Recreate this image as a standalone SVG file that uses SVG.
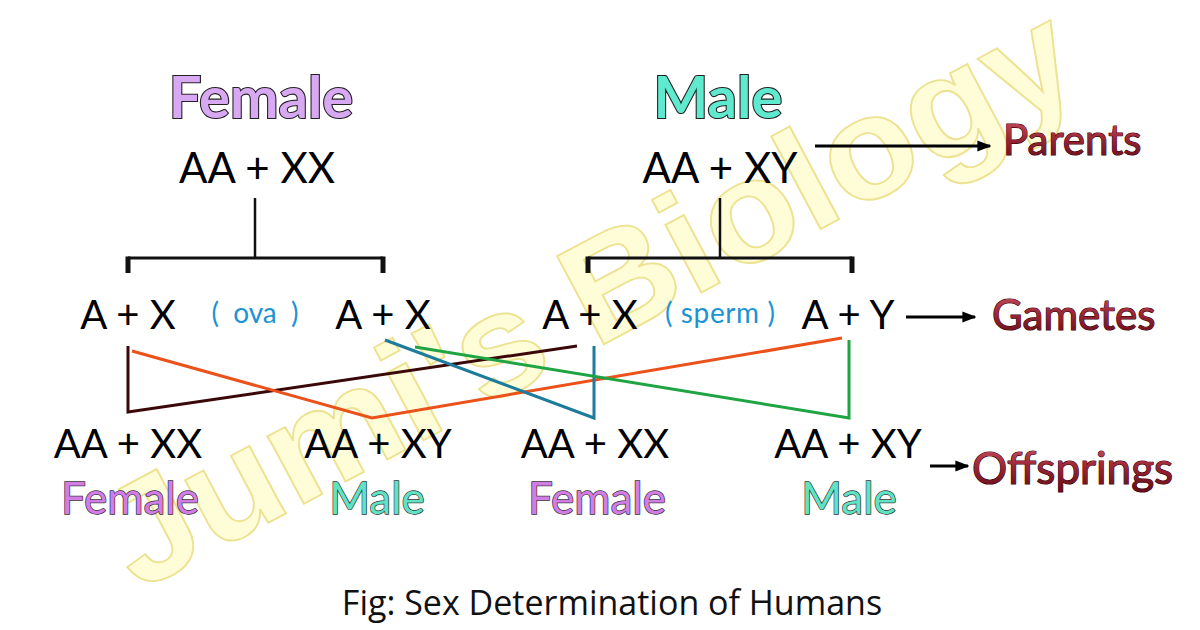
<svg xmlns="http://www.w3.org/2000/svg" width="1200" height="630" viewBox="0 0 1200 630">
<defs>
<linearGradient id="redg" x1="0" y1="0" x2="0" y2="1">
<stop offset="0" stop-color="#d05868"/>
<stop offset="0.5" stop-color="#9a2535"/>
<stop offset="1" stop-color="#5e0a16"/>
</linearGradient>
<marker id="arr" viewBox="0 0 10 10" refX="9" refY="5" markerWidth="5" markerHeight="5" orient="auto" markerUnits="strokeWidth">
<path d="M0,1 L10,5 L0,9 Z" fill="#000"/>
</marker>
<style>
.geno{font-family:"Lato","Liberation Sans",sans-serif;font-size:40px;fill:#000;text-anchor:middle}
.pg{font-size:42px}
.paren{font-family:"Lato","Liberation Sans",sans-serif;font-size:28px;fill:#1d93d3;text-anchor:middle;white-space:pre}
.title{font-family:"Lato","Liberation Sans",sans-serif;font-weight:bold;font-size:58px;stroke:#222;stroke-width:2.2;paint-order:stroke;text-anchor:middle}
.lbl{font-family:"Lato","Liberation Sans",sans-serif;font-size:44px;stroke:#333;stroke-width:1.4;paint-order:stroke;text-anchor:middle}
.side{font-family:"Lato","Liberation Sans",sans-serif;font-size:42px;fill:url(#redg);stroke:#3a0008;stroke-width:1.2;paint-order:stroke}
.fem{fill:#d9a8f2}
.mal{fill:#5fe9cf}
.fem2{fill:#d27ce6}
.mal2{fill:#5fe3c4}
.br{stroke:#111;fill:none}
.cap{font-family:"Open Sans","Noto Sans",sans-serif;font-size:34px;fill:#111;text-anchor:middle}
.wm{font-family:"Liberation Sans",sans-serif;font-weight:bold;font-size:145px;fill:#fffcd8;stroke:#ece290;stroke-width:1.8}
</style>
</defs>
<rect width="1200" height="630" fill="#fff"/>
<text class="wm" transform="translate(138,592) rotate(-28)" textLength="1075" lengthAdjust="spacingAndGlyphs">Jumi's Biology</text>

<g id="parent-female">
<text class="title fem" x="261" y="118">Female</text>
<text class="geno pg" x="257" y="183">AA + XX</text>
</g>
<g id="parent-male">
<text class="title mal" x="718" y="118">Male</text>
<text class="geno pg" x="720" y="183">AA + XY</text>
</g>
<g id="label-parents">
<text class="side" x="1003" y="155">Parents</text>
</g>

<g id="gamete-ova-1"><text class="geno" x="128" y="329">A + X</text></g>
<g id="label-ova"><text class="paren" x="255" y="323">(  ova  )</text></g>
<g id="gamete-ova-2"><text class="geno" x="383" y="329">A + X</text></g>
<g id="gamete-sperm-x"><text class="geno" x="590" y="329">A + X</text></g>
<g id="label-sperm"><text class="paren" x="720" y="323" textLength="110" lengthAdjust="spacing">( sperm )</text></g>
<g id="gamete-sperm-y"><text class="geno" x="848" y="329">A + Y</text></g>
<g id="label-gametes"><text class="side" x="992" y="330">Gametes</text></g>

<g id="offspring-1"><text class="geno" x="128" y="458">AA + XX</text><text class="lbl fem2" x="130" y="514">Female</text></g>
<g id="offspring-2"><text class="geno" x="378" y="458">AA + XY</text><text class="lbl mal2" x="377" y="514">Male</text></g>
<g id="offspring-3"><text class="geno" x="595" y="458">AA + XX</text><text class="lbl fem2" x="597" y="514">Female</text></g>
<g id="offspring-4"><text class="geno" x="848" y="458">AA + XY</text><text class="lbl mal2" x="849" y="514">Male</text></g>
<g id="label-offsprings"><text class="side" x="972" y="484" style="font-size:44px">Offsprings</text></g>

<g id="connectors">
<path class="br" d="M255,198 V258" stroke-width="2.5"/>
<path class="br" d="M128,258 H383" stroke-width="3"/>
<path class="br" d="M128,256.5 V273 M383,256.5 V273" stroke-width="5"/>
<path class="br" d="M720,198 V258" stroke-width="2.5"/>
<path class="br" d="M588,258 H852" stroke-width="3"/>
<path class="br" d="M588,256.5 V273 M852,256.5 V273" stroke-width="5"/>
<line x1="815" y1="146" x2="990" y2="146" stroke="#000" stroke-width="2.8" marker-end="url(#arr)"/>
<line x1="906" y1="317" x2="975" y2="317" stroke="#000" stroke-width="2.8" marker-end="url(#arr)"/>
<line x1="930" y1="466" x2="968" y2="466" stroke="#000" stroke-width="2.8" marker-end="url(#arr)"/>
<polyline points="128,346 128,412 577,346" fill="none" stroke="#3a0808" stroke-width="3"/>
<polyline points="132,351 372,418 842,338" fill="none" stroke="#eb5118" stroke-width="3"/>
<polyline points="385,340 594,418 594,346" fill="none" stroke="#1d7b9b" stroke-width="3"/>
<polyline points="415,347 849,418 849,340" fill="none" stroke="#1fa443" stroke-width="3"/>
</g>

<g id="caption"><text class="cap" x="612" y="615">Fig: Sex Determination of Humans</text></g>
</svg>
